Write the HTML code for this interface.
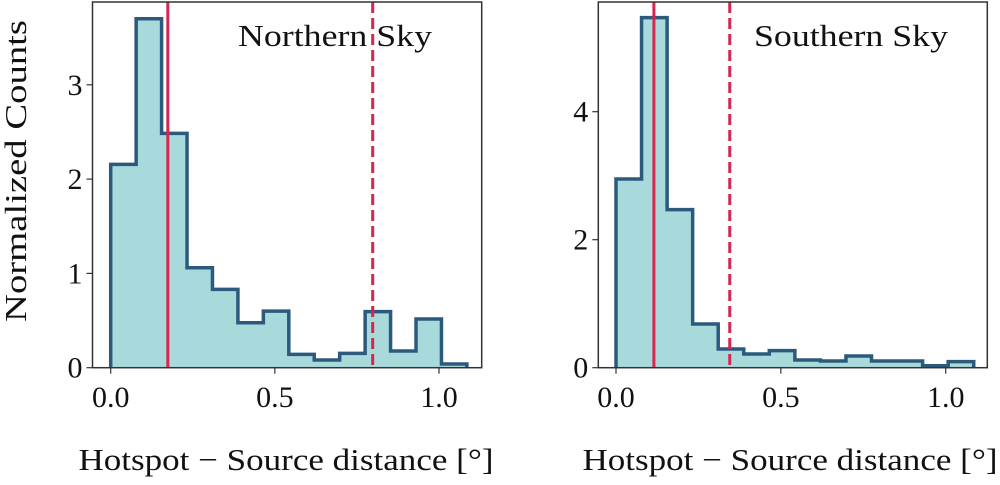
<!DOCTYPE html>
<html><head><meta charset="utf-8"><style>
body{margin:0;background:#fff;width:1000px;height:480px;overflow:hidden}
svg text{font-family:"Liberation Serif","DejaVu Serif",serif;fill:#111}
</style></head><body>
<svg id="chart" width="1000" height="480"></svg>
<script>
const edgesN=[0,0.0775,0.155,0.2325,0.31,0.3875,0.465,0.5425,0.62,0.6975,0.775,0.8525,0.93,1.0075,1.085];
const countsN=[2.156,3.70,2.485,1.06,0.83,0.477,0.60,0.141,0.081,0.152,0.594,0.177,0.516,0.039];
const medianN=0.174, p90N=0.798;
const edgesS=[0,0.0775,0.155,0.2325,0.31,0.3875,0.465,0.5425,0.62,0.6975,0.775,0.8525,0.93,1.0075,1.085];
const countsS=[2.948,5.47,2.47,0.682,0.292,0.214,0.266,0.12,0.104,0.182,0.104,0.104,0.031,0.094];
const medianS=0.115, p90S=0.345;
const xTicks=[0,0.5,1.0], xTickLabels=["0.0","0.5","1.0"];
const yTicksN=[0,1,2,3], yTicksS=[0,2,4];

const NS="http://www.w3.org/2000/svg";
const svg=document.getElementById('chart');
function mk(tag,attrs,parent){const e=document.createElementNS(NS,tag);for(const k in attrs)e.setAttribute(k,attrs[k]);(parent||svg).appendChild(e);return e;}
const FF='"Liberation Serif","DejaVu Serif",serif';

function panel(cfg){
  const g=mk('g',{});
  
  
  const X=v=>cfg.x0+(v)*cfg.xs, Y=v=>cfg.by-v*cfg.ys;
  let d=`M${X(cfg.edges[0])},${Y(0)}`;
  cfg.counts.forEach((c,i)=>{d+=` L${X(cfg.edges[i])},${Y(c)} L${X(cfg.edges[i+1])},${Y(c)}`;});
  d+=` L${X(cfg.edges[cfg.edges.length-1])},${Y(0)}`;
  const fill=mk('path',{d:d+' Z',fill:'#a8dadc',stroke:'none'},g);
  
  
  const st=mk('path',{d:d,fill:'none',stroke:'#2b5a7d','stroke-width':3.5,'stroke-linejoin':'miter'},g);
  
  
  const m=mk('line',{x1:X(cfg.median),x2:X(cfg.median),y1:cfg.top,y2:cfg.by,stroke:'#d62650','stroke-width':3},g);
  
  
  const p=mk('line',{x1:X(cfg.p90),x2:X(cfg.p90),y1:cfg.top,y2:cfg.by,stroke:'#d62650','stroke-width':3,'stroke-dasharray':'11,5'},g);
  
  
  const fr=mk('rect',{x:cfg.left,y:cfg.top,width:cfg.right-cfg.left,height:cfg.by-cfg.top,fill:'none',stroke:'#333','stroke-width':1.5},g);
  
  
  xTicks.forEach((t,i)=>{
    mk('line',{x1:X(t),x2:X(t),y1:cfg.by,y2:cfg.by+6,stroke:'#333','stroke-width':1.2},g);
    const tx=mk('text',{x:X(t),y:407,'text-anchor':'middle','font-size':30,'font-family':FF},g);
    tx.textContent=xTickLabels[i];
    
    
  });
  cfg.yTicks.forEach(t=>{
    mk('line',{x1:cfg.left-6,x2:cfg.left,y1:Y(t),y2:Y(t),stroke:'#333','stroke-width':1.2},g);
    const ty=mk('text',{x:cfg.left-10,y:Y(t)+10,'text-anchor':'end','font-size':30,'font-family':FF},g);
    ty.textContent=String(t);
    
    
  });
  const ti=mk('text',{x:cfg.titleX,y:46,'text-anchor':'middle','font-size':31,'font-family':FF,textLength:cfg.titleW,lengthAdjust:'spacingAndGlyphs'},g);
  ti.textContent=cfg.title;
  
  
  const xl=mk('text',{x:cfg.xlabelX,y:470,'text-anchor':'middle','font-size':31,'font-family':FF,textLength:415,lengthAdjust:'spacingAndGlyphs'},g);
  xl.textContent='Hotspot \u2212 Source distance [\u00b0]';
  
  
}
panel({name:'northern-sky-panel',edges:edgesN,counts:countsN,median:medianN,p90:p90N,x0:110.7,xs:328.3,by:367.7,ys:94.3,top:2,left:92.5,right:481.7,yTicks:yTicksN,title:'Northern Sky',titleX:335,titleW:194,xlabelX:286});
panel({name:'southern-sky-panel',edges:edgesS,counts:countsS,median:medianS,p90:p90S,x0:616,xs:329.7,by:367.7,ys:64,top:2,left:598.3,right:987.3,yTicks:yTicksS,title:'Southern Sky',titleX:851,titleW:194,xlabelX:790});
const yl=mk('text',{x:0,y:0,'text-anchor':'middle','font-size':31,'font-family':FF,textLength:302,lengthAdjust:'spacingAndGlyphs',transform:'translate(26,171) rotate(-90)'});
yl.textContent='Normalized Counts';


</script>
</body></html>
